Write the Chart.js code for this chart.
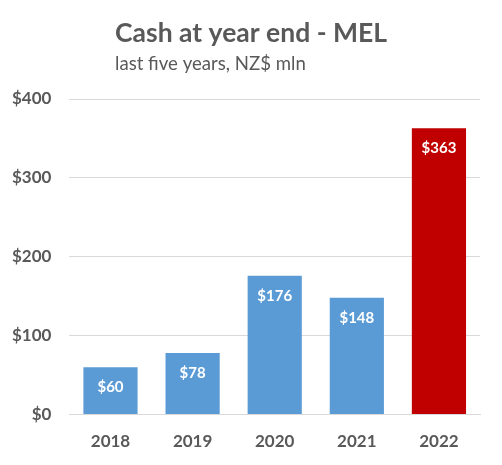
<!DOCTYPE html>
<html>
<head>
<meta charset="utf-8">
<script src="https://cdn.jsdelivr.net/npm/chart.js@4"></script>
<style>
  html, body { margin: 0; padding: 0; background: #fff; }
  #wrap { width: 502px; height: 465px; }
</style>
</head>
<body>
<div id="wrap"><canvas id="cashChart"></canvas></div>
<script>
const years = ['2018', '2019', '2020', '2021', '2022'];
const cash = [60, 78, 176, 148, 363];
const barColors = ['#5B9BD5', '#5B9BD5', '#5B9BD5', '#5B9BD5', '#C00000'];
const yTicks = [0, 100, 200, 300, 400];

const titleText = 'Cash at year end - MEL';
const subtitleText = 'last five years, NZ$ mln';
const grey = '#595959';
const fontFamily = 'Lato, "Open Sans", sans-serif';

// headings: title centred, subtitle aligned to the title's left edge
const headings = {
    id: 'headings',
    afterDraw(chart) {
        const ctx = chart.ctx;
        ctx.save();
        ctx.fillStyle = grey;
        ctx.textBaseline = 'alphabetic';
        ctx.font = 'bold 26.5px ' + fontFamily;
        const w = ctx.measureText(titleText).width;
        const left = chart.width / 2 - w / 2;
        ctx.fillText(titleText, left, 42);
        ctx.font = '18.6px ' + fontFamily;
        ctx.fillText(subtitleText, left, 70);
        ctx.restore();
    }
};

// value labels inside the top of each bar
const barLabels = {
    id: 'barLabels',
    afterDatasetsDraw(chart) {
        const ctx = chart.ctx;
        const meta = chart.getDatasetMeta(0);
        ctx.save();
        ctx.fillStyle = '#fff';
        ctx.font = 'bold 15px ' + fontFamily;
        ctx.textAlign = 'center';
        ctx.textBaseline = 'middle';
        meta.data.forEach((bar, i) => {
            ctx.fillText('$' + cash[i], bar.x, bar.y + 20);
        });
        ctx.restore();
    }
};

new Chart(document.getElementById('cashChart'), {
    type: 'bar',
    data: {
        labels: years,
        datasets: [{
            data: cash,
            backgroundColor: barColors,
            borderWidth: 0,
            categoryPercentage: 1,
            barPercentage: 0.66
        }]
    },
    options: {
        responsive: true,
        maintainAspectRatio: false,
        animation: false,
        layout: { padding: { top: 99, left: -6, right: 22, bottom: 4 } },
        plugins: {
            legend: { display: false },
            title: { display: false },
            tooltip: { enabled: false }
        },
        scales: {
            x: {
                grid: { display: false },
                border: { display: true, color: '#D9D9D9' },
                ticks: {
                    color: grey,
                    padding: 9,
                    font: { family: fontFamily, size: 17, weight: 'bold' }
                }
            },
            y: {
                min: 0,
                max: 400,
                afterBuildTicks(axis) {
                    axis.ticks = yTicks.map(v => ({ value: v }));
                },
                grid: { color: '#D9D9D9', drawTicks: false },
                border: { display: false },
                ticks: {
                    color: grey,
                    padding: 18,
                    font: { family: fontFamily, size: 17, weight: 'bold' },
                    callback: v => '$' + v
                }
            }
        }
    },
    plugins: [headings, barLabels]
});
</script>
</body>
</html>
